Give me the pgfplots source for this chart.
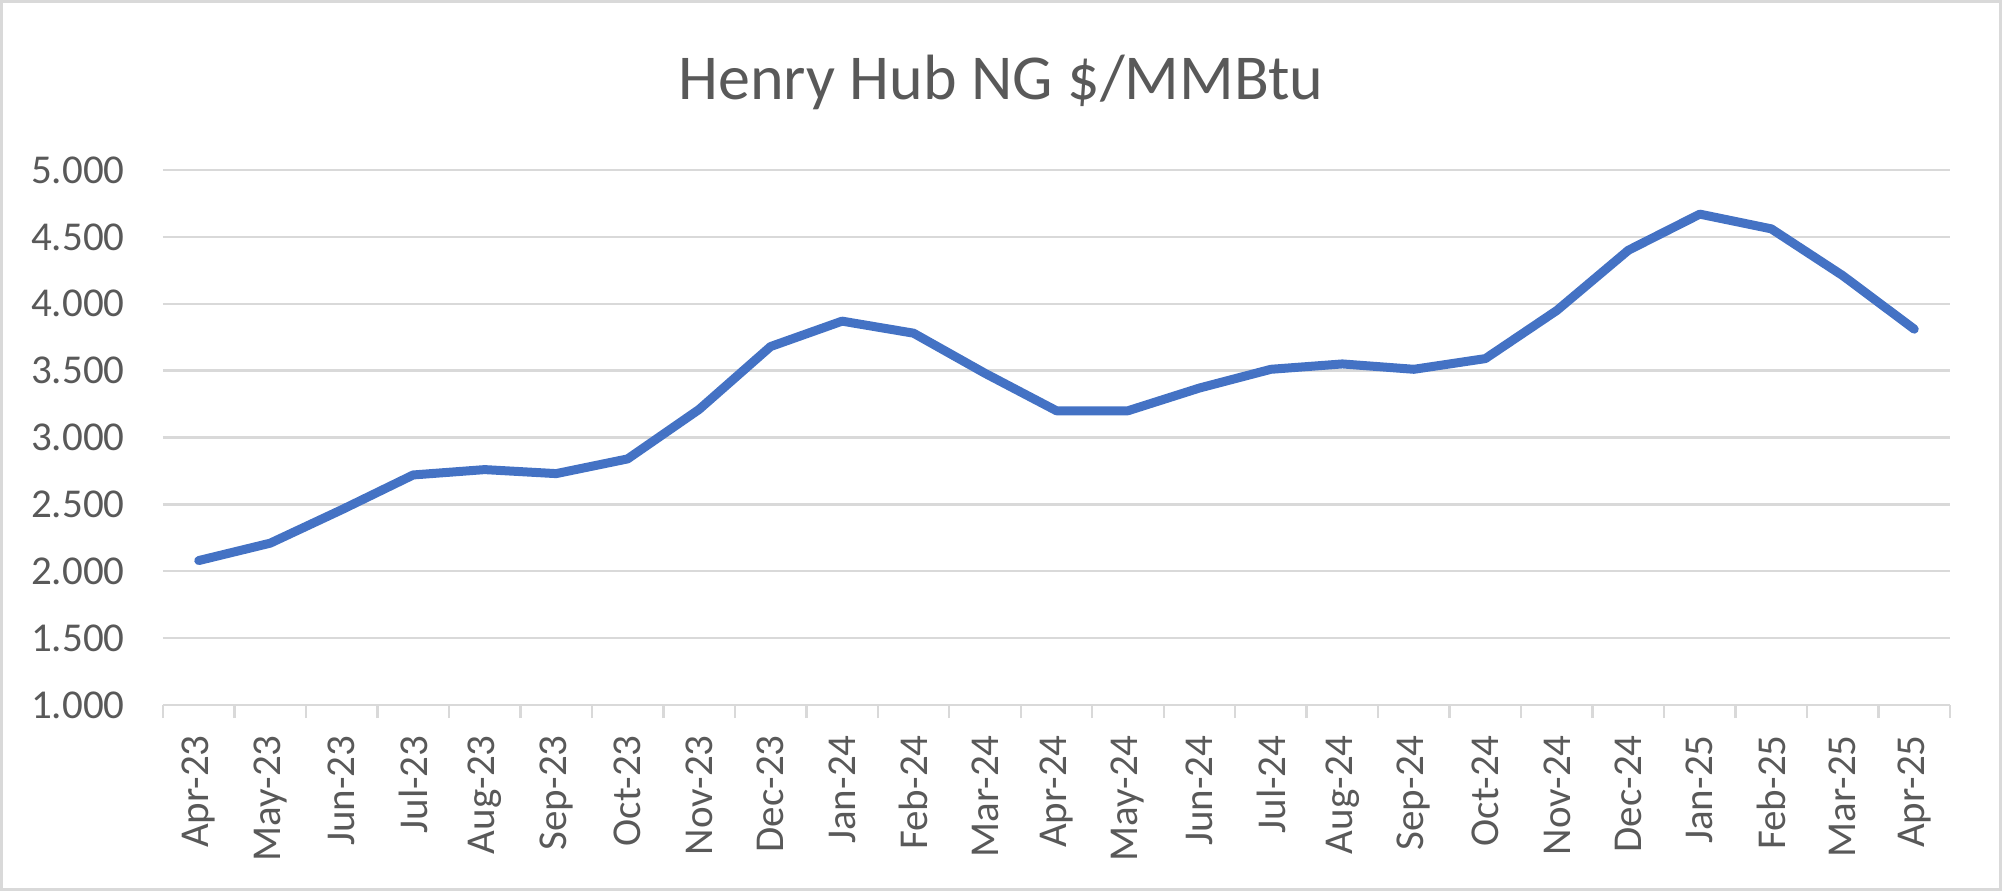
\documentclass[border=0pt]{standalone}
\usepackage{fontspec}
\setmainfont{Carlito}
\usepackage{pgfplots}
\pgfplotsset{compat=1.18}
\definecolor{txtgray}{HTML}{595959}
\definecolor{gridgray}{HTML}{D9D9D9}
\definecolor{xlblue}{HTML}{4472C4}
\begin{document}
\begin{tikzpicture}
\path[use as bounding box] (0,0) rectangle (1001pt,445.5pt);
\draw[gridgray, line width=1.5pt] (0.75pt,0.75pt) rectangle (1000.25pt,444.75pt);
\node[anchor=base, text=txtgray, font=\fontsize{32}{38}\selectfont] at (500.5pt,395.7pt) {Henry Hub NG \$/MMBtu};
\begin{axis}[
  at={(81.5pt,93pt)}, anchor=south west,
  scale only axis, width=893.5pt, height=267.5pt,
  xmin=0.5, xmax=25.5, ymin=1, ymax=5,
  axis x line*=bottom, axis y line*=left,
  x axis line style={gridgray, line width=1.2pt, -},
  y axis line style={draw=none},
  ytick={1,1.5,2,2.5,3,3.5,4,4.5,5},
  yticklabels={1.000,1.500,2.000,2.500,3.000,3.500,4.000,4.500,5.000},
  ymajorgrids, grid style={gridgray, line width=1.2pt},
  xtick={1,...,25},
  xticklabels={Apr-23,May-23,Jun-23,Jul-23,Aug-23,Sep-23,Oct-23,Nov-23,Dec-23,Jan-24,Feb-24,Mar-24,Apr-24,May-24,Jun-24,Jul-24,Aug-24,Sep-24,Oct-24,Nov-24,Dec-24,Jan-25,Feb-25,Mar-25,Apr-25},
  minor xtick={0.5,1.5,...,25.5},
  major tick length=0pt, minor tick length=6.5pt,
  tick align=outside,
  minor tick style={gridgray, line width=1.2pt},
  major tick style={draw=none},
  ytick style={draw=none},
  ticklabel style={font=\fontsize{20.5}{24}\selectfont, text=txtgray},
  yticklabel style={inner sep=0pt, xshift=-19pt},
  xticklabel style={rotate=90, anchor=east, inner sep=0pt},
  xticklabel shift=15pt,
  clip=false,
]
\addplot[xlblue, line width=4.5pt, line cap=round, line join=round] coordinates {
(1,2.08) (2,2.21) (3,2.46) (4,2.72) (5,2.76) (6,2.73) (7,2.84) (8,3.21) (9,3.68)
(10,3.87) (11,3.78) (12,3.48) (13,3.20) (14,3.20) (15,3.37) (16,3.51) (17,3.55)
(18,3.51) (19,3.59) (20,3.95) (21,4.40) (22,4.67) (23,4.56) (24,4.21) (25,3.81)
};
\end{axis}
\end{tikzpicture}
\end{document}
